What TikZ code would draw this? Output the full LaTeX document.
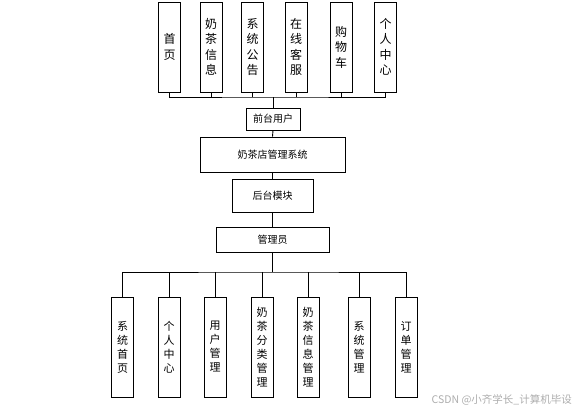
\documentclass[tikz,border=0pt]{standalone}
\usepackage{fontspec}
\setmainfont{Noto Sans CJK SC}
\begin{document}
\begin{tikzpicture}[x=1pt,y=-1pt,
  box/.style={draw=black,line width=0.9pt,inner sep=0pt,align=center,fill=white},
  vbox/.style={box,minimum width=22pt,minimum height=90pt,font=\fontsize{12}{15.5}\selectfont},
  bbox/.style={box,minimum width=22pt,minimum height=100pt,font=\fontsize{11}{14}\selectfont},
  hbox/.style={box,font=\fontsize{10}{12}\selectfont},
  conn/.style={draw=black,line width=0.9pt}]
\useasboundingbox (0,0) rectangle (577,410);
% top boxes
\node[vbox] (t1) at (169.5,47) {首\\页};
\node[vbox] (t2) at (211,47) {奶\\茶\\信\\息};
\node[vbox] (t3) at (252.5,47) {系\\统\\公\\告};
\node[vbox] (t4) at (296,47) {在\\线\\客\\服};
\node[vbox] (t5) at (341,47) {购\\物\\车};
\node[vbox] (t6) at (385.5,47) {个\\人\\中\\心};
% middle
\node[hbox,minimum width=54pt,minimum height=22pt] (qt) at (273,119) {前台用户};
\node[hbox,minimum width=145pt,minimum height=35pt] (sys) at (272.5,154.5) {奶茶店管理系统};
\node[hbox,minimum width=81pt,minimum height=33pt] (ht) at (272.5,195.5) {后台模块};
\node[hbox,minimum width=113pt,minimum height=25pt] (adm) at (272.5,239.5) {管理员};
% bottom boxes
\node[bbox] (b1) at (122.5,347) {系\\统\\首\\页};
\node[bbox] (b2) at (169,347) {个\\人\\中\\心};
\node[bbox] (b3) at (215,347) {用\\户\\管\\理};
\node[bbox] (b4) at (262,347) {奶\\茶\\分\\类\\管\\理};
\node[bbox] (b5) at (308,347) {奶\\茶\\信\\息\\管\\理};
\node[bbox] (b6) at (359,347) {系\\统\\管\\理};
\node[bbox] (b7) at (406,347) {订\\单\\管\\理};
% buses
\coordinate (topbus) at (273,97);
\coordinate (botbus) at (272.5,272);
\draw[conn] (t1.south) |- (topbus) -| (t6.south);
\foreach \n in {t2,t3,t4,t5} \draw[conn] (\n.south) -- (\n.south |- topbus);
\draw[conn] (topbus) -- (qt.north);
\draw[conn] (qt.south) -- (sys.north);
\draw[conn] (sys.south) -- (ht.north);
\draw[conn] (ht.south) -- (adm.north);
\draw[conn] (adm.south) -- (botbus);
\draw[conn] (b1.north) |- (botbus) -| (b7.north);
\foreach \n in {b2,b3,b4,b5,b6} \draw[conn] (\n.north) -- (\n.north |- botbus);
% watermark
\node[anchor=east,inner sep=0pt,text=black!32,font=\fontsize{10.5}{12}\selectfont] (wm) at (572,400) {CSDN @小齐学长\_计算机毕设};
\end{tikzpicture}
\end{document}
